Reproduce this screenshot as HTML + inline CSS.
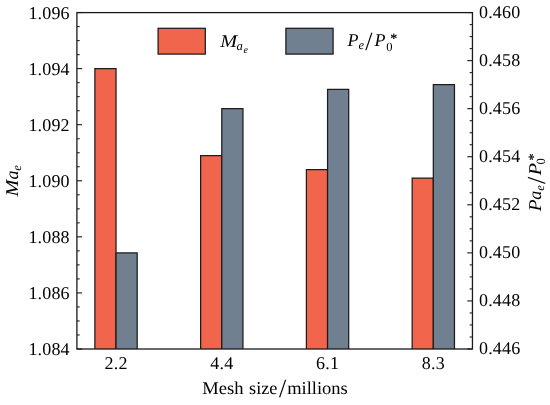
<!DOCTYPE html>
<html><head><meta charset="utf-8"><style>
html,body{margin:0;padding:0;background:#fff;}
body{width:550px;height:405px;overflow:hidden;}
svg{display:block;}
text{text-rendering:geometricPrecision;font-family:"Liberation Serif","DejaVu Serif",serif;fill:#000;stroke:none;}
.it{font-style:italic;}
</style></head><body>
<svg width="550" height="405" viewBox="0 0 550 405">
<rect width="550" height="405" fill="#fff"/>
<defs><clipPath id="ax"><rect x="76.9" y="12.6" width="395.54999999999995" height="336.4"/></clipPath></defs>
<g clip-path="url(#ax)">
<path d="M94.88 351.00V68.67H116.03V351.00" fill="#F0654B" stroke="#1c1c1c" stroke-width="1.25"/>
<path d="M200.64 351.00V155.57H221.79V351.00" fill="#F0654B" stroke="#1c1c1c" stroke-width="1.25"/>
<path d="M306.40 351.00V169.59H327.56V351.00" fill="#F0654B" stroke="#1c1c1c" stroke-width="1.25"/>
<path d="M412.17 351.00V178.00H433.32V351.00" fill="#F0654B" stroke="#1c1c1c" stroke-width="1.25"/>
<path d="M116.03 351.00V252.89H137.18V351.00" fill="#708090" stroke="#1c1c1c" stroke-width="1.25"/>
<path d="M221.79 351.00V108.71H242.95V351.00" fill="#708090" stroke="#1c1c1c" stroke-width="1.25"/>
<path d="M327.56 351.00V89.49H348.71V351.00" fill="#708090" stroke="#1c1c1c" stroke-width="1.25"/>
<path d="M433.32 351.00V84.69H454.47V351.00" fill="#708090" stroke="#1c1c1c" stroke-width="1.25"/>
</g>
<g stroke="#000" stroke-width="1" stroke-linecap="butt">
<line x1="76.90" y1="349.00" x2="82.10" y2="349.00"/>
<line x1="76.90" y1="292.93" x2="82.10" y2="292.93"/>
<line x1="76.90" y1="236.87" x2="82.10" y2="236.87"/>
<line x1="76.90" y1="180.80" x2="82.10" y2="180.80"/>
<line x1="76.90" y1="124.73" x2="82.10" y2="124.73"/>
<line x1="76.90" y1="68.67" x2="82.10" y2="68.67"/>
<line x1="76.90" y1="12.60" x2="82.10" y2="12.60"/>
<line x1="76.90" y1="334.98" x2="79.70" y2="334.98" stroke-width="0.95"/>
<line x1="76.90" y1="320.97" x2="79.70" y2="320.97" stroke-width="0.95"/>
<line x1="76.90" y1="306.95" x2="79.70" y2="306.95" stroke-width="0.95"/>
<line x1="76.90" y1="278.92" x2="79.70" y2="278.92" stroke-width="0.95"/>
<line x1="76.90" y1="264.90" x2="79.70" y2="264.90" stroke-width="0.95"/>
<line x1="76.90" y1="250.88" x2="79.70" y2="250.88" stroke-width="0.95"/>
<line x1="76.90" y1="222.85" x2="79.70" y2="222.85" stroke-width="0.95"/>
<line x1="76.90" y1="208.83" x2="79.70" y2="208.83" stroke-width="0.95"/>
<line x1="76.90" y1="194.82" x2="79.70" y2="194.82" stroke-width="0.95"/>
<line x1="76.90" y1="166.78" x2="79.70" y2="166.78" stroke-width="0.95"/>
<line x1="76.90" y1="152.77" x2="79.70" y2="152.77" stroke-width="0.95"/>
<line x1="76.90" y1="138.75" x2="79.70" y2="138.75" stroke-width="0.95"/>
<line x1="76.90" y1="110.72" x2="79.70" y2="110.72" stroke-width="0.95"/>
<line x1="76.90" y1="96.70" x2="79.70" y2="96.70" stroke-width="0.95"/>
<line x1="76.90" y1="82.68" x2="79.70" y2="82.68" stroke-width="0.95"/>
<line x1="76.90" y1="54.65" x2="79.70" y2="54.65" stroke-width="0.95"/>
<line x1="76.90" y1="40.63" x2="79.70" y2="40.63" stroke-width="0.95"/>
<line x1="76.90" y1="26.62" x2="79.70" y2="26.62" stroke-width="0.95"/>
<line x1="472.45" y1="349.00" x2="467.25" y2="349.00"/>
<line x1="472.45" y1="300.94" x2="467.25" y2="300.94"/>
<line x1="472.45" y1="252.89" x2="467.25" y2="252.89"/>
<line x1="472.45" y1="204.83" x2="467.25" y2="204.83"/>
<line x1="472.45" y1="156.77" x2="467.25" y2="156.77"/>
<line x1="472.45" y1="108.71" x2="467.25" y2="108.71"/>
<line x1="472.45" y1="60.66" x2="467.25" y2="60.66"/>
<line x1="472.45" y1="12.60" x2="467.25" y2="12.60"/>
<line x1="472.45" y1="336.99" x2="469.65" y2="336.99" stroke-width="0.95"/>
<line x1="472.45" y1="324.97" x2="469.65" y2="324.97" stroke-width="0.95"/>
<line x1="472.45" y1="312.96" x2="469.65" y2="312.96" stroke-width="0.95"/>
<line x1="472.45" y1="288.93" x2="469.65" y2="288.93" stroke-width="0.95"/>
<line x1="472.45" y1="276.91" x2="469.65" y2="276.91" stroke-width="0.95"/>
<line x1="472.45" y1="264.90" x2="469.65" y2="264.90" stroke-width="0.95"/>
<line x1="472.45" y1="240.87" x2="469.65" y2="240.87" stroke-width="0.95"/>
<line x1="472.45" y1="228.86" x2="469.65" y2="228.86" stroke-width="0.95"/>
<line x1="472.45" y1="216.84" x2="469.65" y2="216.84" stroke-width="0.95"/>
<line x1="472.45" y1="192.81" x2="469.65" y2="192.81" stroke-width="0.95"/>
<line x1="472.45" y1="180.80" x2="469.65" y2="180.80" stroke-width="0.95"/>
<line x1="472.45" y1="168.79" x2="469.65" y2="168.79" stroke-width="0.95"/>
<line x1="472.45" y1="144.76" x2="469.65" y2="144.76" stroke-width="0.95"/>
<line x1="472.45" y1="132.74" x2="469.65" y2="132.74" stroke-width="0.95"/>
<line x1="472.45" y1="120.73" x2="469.65" y2="120.73" stroke-width="0.95"/>
<line x1="472.45" y1="96.70" x2="469.65" y2="96.70" stroke-width="0.95"/>
<line x1="472.45" y1="84.69" x2="469.65" y2="84.69" stroke-width="0.95"/>
<line x1="472.45" y1="72.67" x2="469.65" y2="72.67" stroke-width="0.95"/>
<line x1="472.45" y1="48.64" x2="469.65" y2="48.64" stroke-width="0.95"/>
<line x1="472.45" y1="36.63" x2="469.65" y2="36.63" stroke-width="0.95"/>
<line x1="472.45" y1="24.61" x2="469.65" y2="24.61" stroke-width="0.95"/>
</g>
<rect x="76.9" y="12.6" width="395.54999999999995" height="336.4" fill="none" stroke="#1a1a1a" stroke-width="1.3"/>
<g font-size="18">
<text x="69.6" y="355.10" text-anchor="end" font-size="18" textLength="41.2" lengthAdjust="spacing">1.084</text>
<text x="69.6" y="299.03" text-anchor="end" font-size="18" textLength="41.2" lengthAdjust="spacing">1.086</text>
<text x="69.6" y="242.97" text-anchor="end" font-size="18" textLength="41.2" lengthAdjust="spacing">1.088</text>
<text x="69.6" y="186.90" text-anchor="end" font-size="18" textLength="41.2" lengthAdjust="spacing">1.090</text>
<text x="69.6" y="130.83" text-anchor="end" font-size="18" textLength="41.2" lengthAdjust="spacing">1.092</text>
<text x="69.6" y="74.77" text-anchor="end" font-size="18" textLength="41.2" lengthAdjust="spacing">1.094</text>
<text x="69.6" y="18.70" text-anchor="end" font-size="18" textLength="41.2" lengthAdjust="spacing">1.096</text>
<text x="479.0" y="353.90" font-size="18" textLength="41.2" lengthAdjust="spacing">0.446</text>
<text x="479.0" y="305.84" font-size="18" textLength="41.2" lengthAdjust="spacing">0.448</text>
<text x="479.0" y="257.79" font-size="18" textLength="41.2" lengthAdjust="spacing">0.450</text>
<text x="479.0" y="209.73" font-size="18" textLength="41.2" lengthAdjust="spacing">0.452</text>
<text x="479.0" y="161.67" font-size="18" textLength="41.2" lengthAdjust="spacing">0.454</text>
<text x="479.0" y="113.61" font-size="18" textLength="41.2" lengthAdjust="spacing">0.456</text>
<text x="479.0" y="65.56" font-size="18" textLength="41.2" lengthAdjust="spacing">0.458</text>
<text x="479.0" y="17.50" font-size="18" textLength="41.2" lengthAdjust="spacing">0.460</text>
<text x="116.03" y="369" text-anchor="middle" font-size="18" textLength="23" lengthAdjust="spacing">2.2</text>
<text x="221.79" y="369" text-anchor="middle" font-size="18" textLength="23" lengthAdjust="spacing">4.4</text>
<text x="327.56" y="369" text-anchor="middle" font-size="18" textLength="23" lengthAdjust="spacing">6.1</text>
<text x="433.32" y="369" text-anchor="middle" font-size="18" textLength="23" lengthAdjust="spacing">8.3</text>
<text x="202.3" y="393.5" textLength="41.25" lengthAdjust="spacingAndGlyphs">Mesh</text>
<text x="249.05" y="393.5" textLength="28.4" lengthAdjust="spacingAndGlyphs">size</text>
<text x="279.0" y="397.4" font-size="26">/</text>
<text x="287.2" y="393.5" textLength="60.55" lengthAdjust="spacingAndGlyphs">millions</text>
</g>
<!-- legend -->
<rect x="158.1" y="28.3" width="47.2" height="25.8" fill="#F0654B" stroke="#1a1a1a" stroke-width="1.25"/>
<rect x="285.9" y="28.3" width="47.2" height="25.8" fill="#708090" stroke="#1a1a1a" stroke-width="1.25"/>
<text x="220.3" y="46.6" font-size="18" class="it" textLength="16.9" lengthAdjust="spacingAndGlyphs">M</text>
<text x="236.5" y="49.7" font-size="12.6" class="it">a</text>
<text x="243.5" y="52.7" font-size="10" class="it">e</text>
<text x="347.6" y="46" font-size="18" class="it">P</text>
<text x="358.6" y="49" font-size="12.6" class="it">e</text>
<text x="365.2" y="50.2" font-size="26">/</text>
<text x="374.4" y="46" font-size="18" class="it">P</text>
<text x="386.2" y="50.8" font-size="12.6">0</text>
<text x="390.2" y="43" font-size="14" style="stroke:#000;stroke-width:0.25px">*</text>
<!-- left ylabel -->
<g transform="translate(17.9,196.5) rotate(-90)">
<text x="0" y="0" font-size="18" class="it" textLength="16.9" lengthAdjust="spacingAndGlyphs">M</text>
<text x="16.9" y="0" font-size="18" class="it">a</text>
<text x="25.8" y="3.4" font-size="12.6" class="it">e</text>
</g>
<!-- right ylabel -->
<g transform="translate(541,211.3) rotate(-90)">
<text x="0" y="0" font-size="18" class="it" textLength="11.8" lengthAdjust="spacingAndGlyphs">P</text>
<text x="11.6" y="0" font-size="18" class="it">a</text>
<text x="20.5" y="3.2" font-size="12.6" class="it">e</text>
<text x="27.2" y="4.4" font-size="26">/</text>
<text x="36" y="0" font-size="18" class="it" textLength="12.2" lengthAdjust="spacingAndGlyphs">P</text>
<text x="46.9" y="4.4" font-size="12.6">0</text>
<text x="50.8" y="-3" font-size="14" style="stroke:#000;stroke-width:0.25px">*</text>
</g>
</svg>
</body></html>
